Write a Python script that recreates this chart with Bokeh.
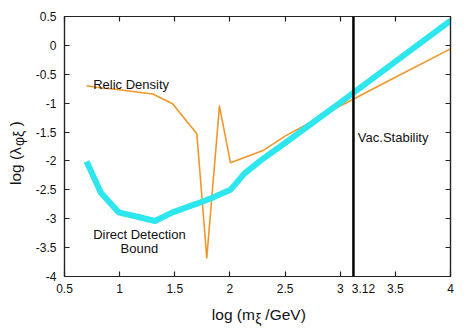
import math
from bokeh.plotting import figure
from bokeh.layouts import row, column
from bokeh.models import (Range1d, FixedTicker, LinearAxis, Label, Span,
                          CustomJSTickFormatter)
from bokeh.core.properties import value
from bokeh.embed import file_html
from bokeh.resources import INLINE

# ---- data ----
relic_x = [0.70, 0.80, 0.96, 1.30, 1.48, 1.70, 1.79, 1.905, 2.005, 2.30, 2.50, 3.00, 3.50, 4.00]
relic_y = [-0.70, -0.73, -0.76, -0.84, -1.01, -1.53, -3.68, -1.05, -2.03, -1.82, -1.57, -1.05, -0.55, -0.06]

dd_x = [0.70, 0.83, 0.99, 1.17, 1.32, 1.48, 1.70, 1.85, 2.005, 2.13, 2.28, 2.50, 3.00, 3.50, 4.00]
dd_y = [-2.01, -2.55, -2.89, -2.97, -3.04, -2.89, -2.74, -2.63, -2.50, -2.22, -1.99, -1.69, -0.99, -0.28, 0.43]

vac_x = 3.12
x_ticks = [0.5, 1.0, 1.5, 2.0, 2.5, 3.0, 3.12, 3.5, 4.0]
x_tick_labels = ["0.5", "1", "1.5", "2", "2.5", "3", "\u00a0" * 6 + "3.12", "3.5", "4"]
y_ticks = [-4.0, -3.5, -3.0, -2.5, -2.0, -1.5, -1.0, -0.5, 0.0, 0.5]
y_tick_labels = ["-4", "-3.5", "-3", "-2.5", "-2", "-1.5", "-1", "-0.5", "0", "0.5"]
mirror_x_ticks = [0.5, 1.0, 1.5, 2.0, 2.5, 3.0, 3.5, 4.0]

FONT = "Liberation Sans"
INK = "#111111"
YT_W = 32  # width of the strip holding the y title

# ---------------- main plot ----------------
p = figure(width=474 - YT_W, height=300, output_backend="svg", toolbar_location=None,
           x_range=Range1d(0.5, 4.0), y_range=Range1d(-4.0, 0.5),
           min_border_left=64 - YT_W, min_border_right=24, min_border_top=16,
           min_border_bottom=24, background_fill_color="white",
           border_fill_color="white")
p.grid.visible = False
p.outline_line_color = "#222222"
p.outline_line_width = 1.2

blank = CustomJSTickFormatter(code="return '';")

def style(ax, labels=True):
    ax.major_tick_in = 5
    ax.major_tick_out = 0
    ax.minor_tick_line_color = None
    ax.axis_line_color = "#222222"
    ax.axis_line_width = 1.2
    ax.major_tick_line_color = "#222222"
    ax.major_tick_line_width = 1.2
    ax.major_label_text_font = FONT
    ax.major_label_text_font_size = "12px"
    ax.major_label_text_color = INK
    if not labels:
        ax.formatter = blank
        ax.major_label_text_font_size = "0px"
        ax.major_label_standoff = 0

p.xaxis.ticker = FixedTicker(ticks=x_ticks)
p.yaxis.ticker = FixedTicker(ticks=y_ticks)
p.xaxis.major_label_overrides = dict(zip(x_ticks, x_tick_labels))
p.yaxis.major_label_overrides = dict(zip(y_ticks, y_tick_labels))
style(p.xaxis[0]); style(p.yaxis[0])
p.xaxis.major_label_standoff = 5
p.yaxis.major_label_standoff = 8

top = LinearAxis(ticker=FixedTicker(ticks=mirror_x_ticks))
right = LinearAxis(ticker=FixedTicker(ticks=y_ticks))
style(top, False); style(right, False)
p.add_layout(top, "above")
p.add_layout(right, "right")

p.line(relic_x, relic_y, line_color="#f0962a", line_width=1.6, line_join="round")
p.line(dd_x, dd_y, line_color="#2ee6ee", line_width=6, line_join="round")
p.add_layout(Span(location=vac_x, dimension="height", line_color="black", line_width=2.5))

def lab(x, y, text, align="left"):
    p.add_layout(Label(x=x, y=y, text=text, text_font=FONT, text_font_size="13px",
                       text_align=align, text_baseline="alphabetic", text_color=INK))

lab(0.76, -0.676, "Relic Density")
lab(1.179, -3.27, "Direct Detection", align="center")
lab(1.179, -3.52, "Bound", align="center")
lab(3.16, -1.588, "Vac.Stability")

# ---------------- title strips (pixel coordinates) ----------------
def strip(w, h):
    f = figure(width=w, height=h, output_backend="svg", toolbar_location=None,
               x_range=Range1d(0, w), y_range=Range1d(0, h),
               x_axis_type=None, y_axis_type=None, min_border=0,
               background_fill_color="white", border_fill_color="white")
    f.grid.visible = False
    f.outline_line_color = None
    return f

def txt(f, x, y, s, size, align="left", angle=0.0):
    f.text(x=[x], y=[y], text=[s], text_font=value(FONT), text_font_size=size,
           text_align=align, text_baseline="alphabetic", angle=angle, text_color=INK)

# x title: log (m_xi/GeV)   (strip starts at canvas x = YT_W)
xt = strip(474 - YT_W, 31)
ox = YT_W
txt(xt, 250 - ox, 17, "log (m", "15.5px", align="right")
txt(xt, 250.5 - ox, 13, "\u03be", "14px")
txt(xt, 262 - ox, 17, "/GeV)", "15.5px")

# y title: log (lambda_{phi xi}), rotated
yt = strip(YT_W, 331)
ang = math.pi / 2
txt(yt, 15, 146.5, "log (\u03bb", "15.5px", angle=ang)
txt(yt, 18.5, 185.5, "\u03c6\u03be", "14px", angle=ang)
txt(yt, 15, 205, ")", "15.5px", angle=ang)

layout = row(yt, column(p, xt, spacing=0), spacing=0)
open("out.html", "w").write(file_html(layout, INLINE))
